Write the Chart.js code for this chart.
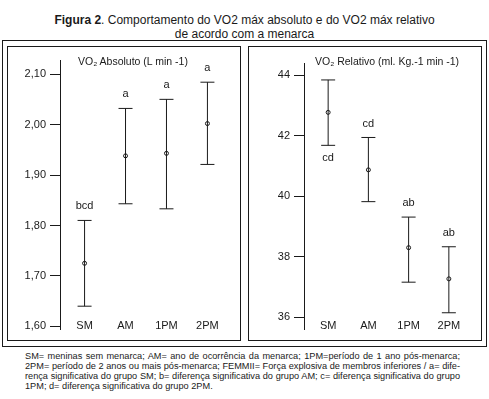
<!DOCTYPE html>
<html>
<head>
<meta charset="utf-8">
<script src="https://cdn.jsdelivr.net/npm/chart.js@4.4.1/dist/chart.umd.min.js"></script>
<style>
  html, body { margin: 0; padding: 0; background: #fff; }
  body { width: 489px; height: 399px; position: relative; overflow: hidden;
         font-family: "Liberation Sans", Arial, sans-serif; color: #1a1a1a; }
  .title { position: absolute; left: 0; width: 489px; text-align: center; font-size: 12px; line-height: 14px; }
  .outer { position: absolute; left: 2px; top: 40px; width: 483px; height: 305px; border: 1px solid #1a1a1a; }
  .panel { position: absolute; top: 46px; width: 232px; height: 293px; border: 1px solid #1a1a1a; }
  .panel canvas { position: absolute; left: 0; top: 0; }
  .ptitle { position: absolute; top: 8px; font-size: 10.5px; white-space: nowrap; }
  .foot { position: absolute; left: 25px; width: 435px; font-size: 9.2px; line-height: 10px; }
  .foot div { text-align: justify; text-align-last: justify; white-space: nowrap; }
  .foot div.last { text-align-last: left; }
</style>
</head>
<body>
<div class="title" style="top:13px"><b>Figura 2</b>. Comportamento do VO2 máx absoluto e do VO2 máx relativo</div>
<div class="title" style="top:27px">de acordo com a menarca</div>
<div class="outer"></div>
<div class="panel" style="left:7px"><canvas id="c1" width="232" height="293"></canvas>
  <div class="ptitle" style="left:70px">VO₂ Absoluto (L min -1)</div></div>
<div class="panel" style="left:248px"><canvas id="c2" width="232" height="293"></canvas>
  <div class="ptitle" style="left:66px">VO₂ Relativo (ml. Kg.-1 min -1)</div></div>
<div class="foot" style="top:351px">
  <div>SM= meninas sem menarca; AM= ano de ocorrência da menarca; 1PM=período de 1 ano pós-menarca;</div>
  <div>2PM= período de 2 anos ou mais pós-menarca; FEMMII= Força explosiva de membros inferiores / a= dife-</div>
  <div>rença significativa do grupo SM; b= diferença significativa do grupo AM; c= diferença significativa do grupo</div>
  <div class="last">1PM; d= diferença significativa do grupo 2PM.</div>
</div>
<script>
// ---- data ----
const categories = ['SM', 'AM', '1PM', '2PM'];
const absMean = [1.725, 1.938, 1.943, 2.002];
const absLow  = [1.640, 1.843, 1.833, 1.921];
const absHigh = [1.810, 2.032, 2.050, 2.084];
const absLetters = ['bcd', 'a', 'a', 'a'];
const absLetterPos = ['above', 'above', 'above', 'above'];
const absTicks = [1.6, 1.7, 1.8, 1.9, 2.0, 2.1];

const relMean = [42.77, 40.87, 38.30, 37.27];
const relLow  = [41.68, 39.82, 37.16, 36.15];
const relHigh = [43.84, 41.94, 39.31, 38.33];
const relLetters = ['cd', 'cd', 'ab', 'ab'];
const relLetterPos = ['below', 'above', 'above', 'above'];
const relTicks = [36, 38, 40, 42, 44];

const INK = '#1a1a1a';
const FONT = "'Liberation Sans', Arial, sans-serif";

const letterPlugin = {
  id: 'letters',
  afterDatasetsDraw(chart, args, opts) {
    const ctx = chart.ctx, xs = chart.scales.x, ys = chart.scales.y;
    ctx.save();
    ctx.fillStyle = INK;
    ctx.font = '11px ' + FONT;
    ctx.textAlign = 'center';
    ctx.textBaseline = 'middle';
    opts.letters.forEach((t, i) => {
      const x = xs.getPixelForValue(i + 1);
      const y = opts.pos[i] === 'above'
        ? ys.getPixelForValue(opts.high[i]) - 14
        : ys.getPixelForValue(opts.low[i]) + 13;
      ctx.fillText(t, x, y);
    });
    ctx.restore();
  }
};

function makeChart(id, mean, low, high, letters, pos, yMin, yMax, tickVals, fmt, padLeft, yWidth, padTop) {
  const whisker = [];
  categories.forEach((c, i) => {
    whisker.push({x: i + 1, y: low[i]}, {x: i + 1, y: high[i]}, {x: i + 1.5, y: null});
  });
  const caps = [];
  categories.forEach((c, i) => { caps.push({x: i + 1, y: low[i]}, {x: i + 1, y: high[i]}); });
  const means = mean.map((v, i) => ({x: i + 1, y: v}));
  return new Chart(document.getElementById(id), {
    type: 'scatter',
    data: {
      datasets: [
        { type: 'line', data: whisker, borderColor: INK, borderWidth: 1, pointRadius: 0, spanGaps: false, fill: false },
        { data: caps, pointStyle: 'line', pointRadius: 7, borderColor: INK, borderWidth: 1, pointHoverRadius: 7 },
        { data: means, pointStyle: 'circle', pointRadius: 2, backgroundColor: '#fff', borderColor: INK, borderWidth: 1 }
      ]
    },
    options: {
      responsive: false, animation: false,
      layout: { padding: { left: padLeft, top: padTop, right: 6, bottom: 0 } },
      plugins: { legend: { display: false }, tooltip: { enabled: false },
                 letters: { letters, pos, low, high } },
      scales: {
        x: { type: 'linear', min: 0.4, max: 4.6,
             grid: { display: false, drawTicks: false }, border: { display: false },
             afterBuildTicks: s => { s.ticks = categories.map((c, i) => ({ value: i + 1 })); },
             afterFit: s => { s.height = 0; },
             ticks: { mirror: true, padding: -3, color: INK, font: { size: 11, family: FONT },
                      callback: v => categories[Math.round(v) - 1], maxRotation: 0, autoSkip: false } },
        y: { min: yMin, max: yMax,
             afterFit: s => { s.width = yWidth; },
             afterBuildTicks: s => { s.ticks = tickVals.map(v => ({ value: v })); },
             grid: { drawOnChartArea: false, drawTicks: true, tickLength: 10, color: INK },
             border: { display: true, color: INK, width: 1 },
             ticks: { padding: 4, color: INK, autoSkip: false,
                      font: { size: 11, family: FONT }, callback: fmt } }
      }
    },
    plugins: [letterPlugin]
  });
}

makeChart('c1', absMean, absLow, absHigh, absLetters, absLetterPos, 1.594, 2.128, absTicks,
  v => v.toFixed(2).replace('.', ','), 16, 36, 13);
makeChart('c2', relMean, relLow, relHigh, relLetters, relLetterPos, 35.6, 44.4, relTicks,
  v => String(Math.round(v)), 28, 27, 16);
</script>
</body>
</html>
